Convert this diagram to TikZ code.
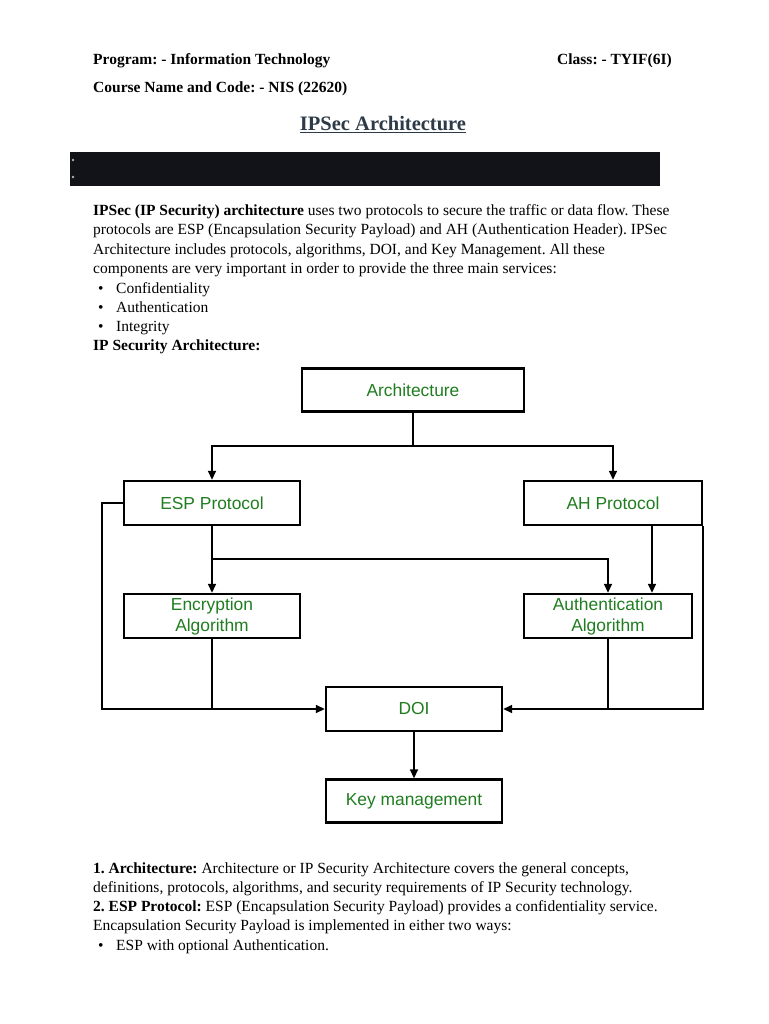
\documentclass[tikz,border=0pt]{standalone}
\usepackage{fontspec}
\setmainfont{Liberation Serif}
\newfontfamily\boxfont{Liberation Sans}
\usetikzlibrary{arrows.meta, positioning}
\definecolor{boxgreen}{RGB}{32,125,32}
\definecolor{titleslate}{RGB}{45,58,72}
\definecolor{barblack}{RGB}{17,19,24}
\frenchspacing
\tikzset{
    block/.style={draw, line width=2.4pt, minimum width=176pt, minimum height=44pt, inner sep=0pt,
        align=center, text=boxgreen, font=\boxfont\fontsize{17.4}{21}\selectfont},
    link/.style={line width=1.6pt},
    arrow/.style={link, -{Triangle[length=9pt, width=8pt]}},
    textline/.style={anchor=base west, inner sep=0pt, font=\fontsize{15.5}{17}\selectfont},
    headline/.style={anchor=base west, inner sep=0pt, font=\bfseries\fontsize{15.5}{17}\selectfont}
}

\begin{document}
\begin{tikzpicture}[x=1pt, y=-1pt]
    % Page
    \fill[white] (0,0) rectangle (768,1024);
    \useasboundingbox (0,0) rectangle (768,1024);
    % Header
    \node[headline] (program) at (93,65) {Program: - Information Technology};
    \node[headline] (class) at (557,65) {Class: - TYIF(6I)};
    \node[headline] (course) at (93,93) {Course Name and Code: - NIS (22620)};
    \node[anchor=base, inner sep=0pt, text=titleslate, font=\bfseries\fontsize{20.5}{24}\selectfont] (title) at (383,131) {\underline{IPSec Architecture}};
    % Black bar
    \fill[barblack] (70,152) rectangle (660,186);
    \fill[gray!60] (73,160) circle (1.3pt);
    \fill[gray!60] (73,177) circle (1.3pt);
    % Intro text
    \node[textline] (intro1) at (93,215) {\textbf{IPSec (IP Security) architecture} uses two protocols to secure the traffic or data flow. These};
    \node[textline] (intro2) at (93,234) {protocols are ESP (Encapsulation Security Payload) and AH (Authentication Header). IPSec};
    \node[textline] (intro3) at (93,254) {Architecture includes protocols, algorithms, DOI, and Key Management. All these};
    \node[textline] (intro4) at (93,273) {components are very important in order to provide the three main services:};
    \node[textline] (svc1) at (98,293) {•};
    \node[textline] (svc1text) at (116,293) {Confidentiality};
    \node[textline] (svc2) at (98,312) {•};
    \node[textline] (svc2text) at (116,312) {Authentication};
    \node[textline] (svc3) at (98,331) {•};
    \node[textline] (svc3text) at (116,331) {Integrity};
    \node[textline] (diagtitle) at (93,350) {\textbf{IP Security Architecture:}};
    % Boxes
    \node[block, minimum width=222pt, minimum height=43pt] (arch) at (413,390) {Architecture};
    \node[block] (esp) at (212,503) {ESP Protocol};
    \node[block, minimum width=178pt] (ah) at (613,503) {AH Protocol};
    \node[block] (enc) at (212,616) {Encryption\\Algorithm};
    \node[block, minimum width=168pt] (auth) at (608,616) {Authentication\\Algorithm};
    \node[block] (doi) at (414,709) {DOI};
    \node[block, minimum height=43pt] (key) at (414,801) {Key management};
    % Architecture to protocols
    \coordinate (archsplit) at ([yshift=-33pt]arch.south);
    \draw[link] (arch.south) -- (archsplit);
    \draw[arrow] (archsplit) -| (esp.north);
    \draw[arrow] (archsplit) -| (ah.north);
    % ESP to algorithms
    \coordinate (espsplit) at ([yshift=-33pt]esp.south);
    \draw[arrow] (esp.south) -- (enc.north);
    \draw[arrow] (espsplit) -| (auth.north);
    \draw[arrow] ([xshift=39pt]ah.south) -- ([xshift=39pt]ah.south |- auth.north);
    % Into DOI
    \draw[arrow] (esp.west) -- ++(-21,0) |- (doi.west);
    \draw[arrow] (ah.south east) |- (doi.east);
    \draw[link] (enc.south) -- (enc.south |- doi.west);
    \draw[link] (auth.south) -- (auth.south |- doi.east);
    \draw[arrow] (doi) -- (key);
    % Description text
    \node[textline] (desc1) at (93,873) {\textbf{1. Architecture:} Architecture or IP Security Architecture covers the general concepts,};
    \node[textline] (desc2) at (93,892) {definitions, protocols, algorithms, and security requirements of IP Security technology.};
    \node[textline] (desc3) at (93,911) {\textbf{2. ESP Protocol:} ESP (Encapsulation Security Payload) provides a confidentiality service.};
    \node[textline] (desc4) at (93,930) {Encapsulation Security Payload is implemented in either two ways:};
    \node[textline] (way1) at (98,950) {•};
    \node[textline] (way1text) at (116,950) {ESP with optional Authentication.};
\end{tikzpicture}
\end{document}
